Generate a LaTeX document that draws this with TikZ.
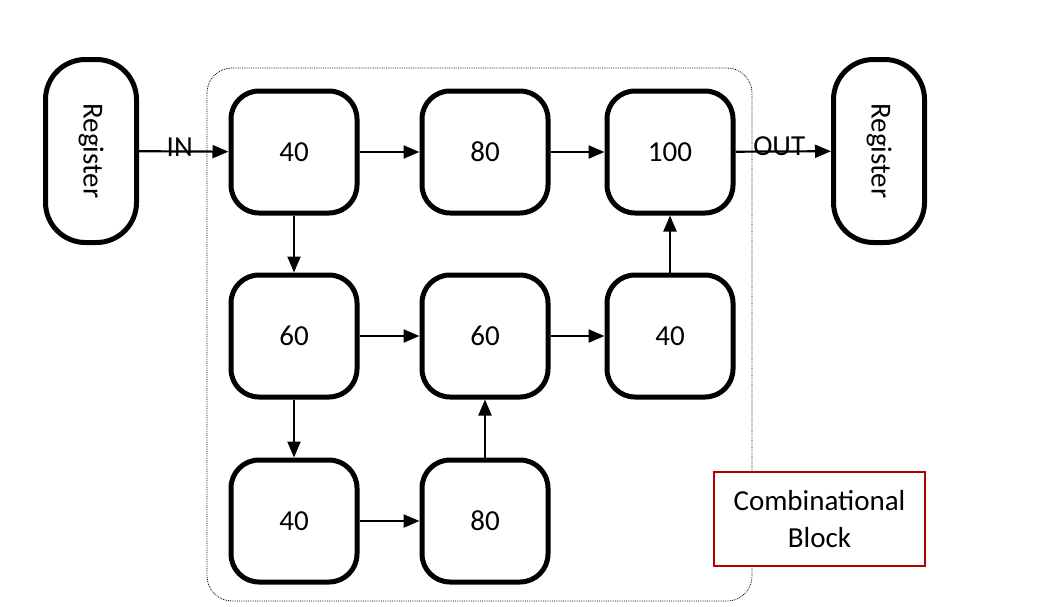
\documentclass[tikz,border=0pt]{standalone}
\usepackage{fontspec}
\setmainfont{Carlito}
\usetikzlibrary{arrows.meta}
\begin{document}
\begin{tikzpicture}[x=1pt,y=-1pt,
  blk/.style={draw,line width=5pt,rounded corners=28pt,minimum width=126pt,minimum height=122pt,font=\fontsize{29}{34}\selectfont},
  reg/.style={draw,line width=5pt,rounded corners=40pt,minimum width=91pt,minimum height=183pt},
  lab/.style={font=\fontsize{29}{34}\selectfont},
  ar/.style={-{Triangle[length=16pt,width=13pt]},line width=2.2pt}]
\useasboundingbox (0,0) rectangle (1046,606);
\draw[densely dotted,rounded corners=25pt,line width=0.8pt] (207,68) rectangle (752,601);
\node[reg] (rl) at (91,151) {};
\node[rotate=-90,lab] at (91,151) {Register};
\node[reg] (rr) at (879,151) {};
\node[rotate=-90,lab] at (879,151) {Register};
\node[blk] (a) at (294,152) {40};
\node[blk] (b) at (485,152) {80};
\node[blk] (c) at (670,152) {100};
\node[blk] (d) at (294,336) {60};
\node[blk] (e) at (485,336) {60};
\node[blk] (f) at (670,336) {40};
\node[blk] (g) at (294,521) {40};
\node[blk] (h) at (485,521) {80};
\draw[ar] (rl) -- node[above,lab,xshift=-4pt,yshift=-9pt]{IN} (a);
\draw[ar] (c) -- node[above,lab,xshift=-4pt,yshift=-9pt]{OUT} (rr);
\draw[ar] (a)--(b); \draw[ar] (b)--(c);
\draw[ar] (a)--(d); \draw[ar] (d)--(e); \draw[ar] (e)--(f); \draw[ar] (f)--(c);
\draw[ar] (d)--(g); \draw[ar] (g)--(h); \draw[ar] (h)--(e);
\node[draw=red!70!black,fill=white,line width=1.2pt,minimum width=211pt,minimum height=94pt,align=center,font=\fontsize{29}{37}\selectfont] (cb) at (819.5,519) {Combinational\\Block};
\end{tikzpicture}
\end{document}
